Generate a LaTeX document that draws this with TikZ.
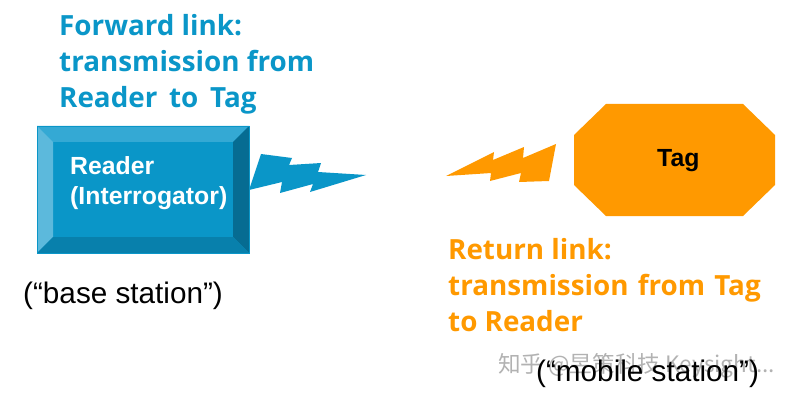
\documentclass[tikz,border=0pt]{standalone}
\usepackage{fontspec}
\setmainfont{Liberation Sans}
\newfontfamily\headfont{Open Sans}
\newfontfamily\cjkfont{Noto Sans CJK SC}
\definecolor{rblue}{HTML}{0A96C8}
\definecolor{rlight}{HTML}{34A9D4}
\definecolor{rpale}{HTML}{5CB9DC}
\definecolor{rdark}{HTML}{0880AC}
\definecolor{rdarker}{HTML}{066C92}
\definecolor{rorange}{HTML}{FF9900}
\tikzset{
  head/.style={anchor=base west,inner sep=0pt,font=\headfont\bfseries\fontsize{27.8}{28}\selectfont},
  plain/.style={anchor=base west,inner sep=0pt,font=\fontsize{29.7}{30}\selectfont,text=black},
  boxlabel/.style={anchor=base west,inner sep=0pt,font=\bfseries\fontsize{24.8}{25}\selectfont,text=white}
}
\begin{document}
\begin{tikzpicture}[x=1pt,y=-1pt]
\useasboundingbox (0,0) rectangle (795,401);
% Reader box
\fill[rblue] (37,126) rectangle (249,253);
\fill[rlight] (37,126) -- (249,126) -- (233,142) -- (53,142) -- cycle;
\fill[rpale] (37,126) -- (53,142) -- (53,237) -- (37,253) -- cycle;
\fill[rdarker] (249,126) -- (233,142) -- (233,237) -- (249,253) -- cycle;
\fill[rdark] (37,253) -- (53,237) -- (233,237) -- (249,253) -- cycle;
\draw[rblue,line width=0.8pt] (37,126) rectangle (249,253);
% Reader bolt
\fill[rblue] (249,190) -- (261,154) -- (292,158) -- (289,165) -- (321,163) -- (318,172) -- (366,175) -- (310,192) -- (313,184) -- (280,193) -- (282,182) -- cycle;
% Tag
\fill[rorange] (606,104) -- (743,104) -- (775,135) -- (775,185) -- (743,216) -- (606,216) -- (574,185) -- (574,135) -- cycle;
\fill[rorange] (446,176) -- (494,152) -- (493,160) -- (524,147) -- (523,158) -- (556,144) -- (549,181) -- (519,182) -- (521,173) -- (490,181) -- (491,173) -- cycle;
% Texts
\node[head,text=rblue] (f1) at (59,36) {Forward link:};
\node[head,text=rblue] (f2) at (59,72) {transmission from};
\node[head,text=rblue] (f3) at (59,108) {Reader\hspace{4.5pt} to\hspace{4.5pt} Tag};
\node[boxlabel] (r1) at (70,174) {Reader};
\node[boxlabel] (r2) at (70,204) {(Interrogator)};
\node[anchor=base west,inner sep=0pt,font=\bfseries\fontsize{24.8}{25}\selectfont,text=black] (t) at (657,167) {Tag};
\node[plain] (b) at (23,303) {(“base station”)};
\node[head,text=rorange] (o1) at (448,259) {Return link:};
\node[head,text=rorange] (o2) at (448,295) {transmission\hspace{2pt} from\hspace{2pt} Tag};
\node[head,text=rorange] (o3) at (448,331) {to Reader};
\node[anchor=base west,inner sep=0pt,text=black!30,font=\cjkfont\fontsize{22.6}{23}\selectfont] (w) at (498,372) {知乎 @昱策科技 Keysight...};
\node[plain] (m) at (536,381) {(“mobile station”)};
\end{tikzpicture}
\end{document}
